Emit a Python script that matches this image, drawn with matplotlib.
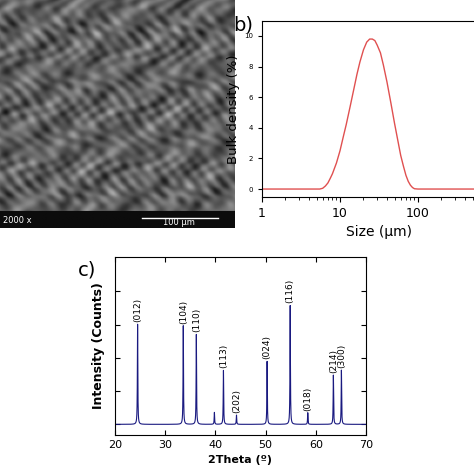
import numpy as np
import matplotlib.pyplot as plt
from matplotlib.ticker import FixedLocator, NullFormatter

# panel b: particle size distribution
size_um = [1, 5.5, 6, 6.5, 7, 7.5, 8, 9, 10, 11, 12, 13.5, 15, 16.5, 18, 20, 22, 24, 25, 26, 28, 30,
           33, 36, 40, 45, 50, 55, 60, 65, 70, 75, 80, 85, 90, 100, 1000]
bulk_pct = [0, 0, 0.05, 0.2, 0.4, 0.7, 1.0, 1.7, 2.5, 3.4, 4.2, 5.4, 6.5, 7.5, 8.3, 9.1, 9.6, 9.8, 9.8,
            9.8, 9.7, 9.4, 8.9, 8.1, 7.0, 5.6, 4.3, 3.2, 2.2, 1.5, 0.9, 0.5, 0.25, 0.1, 0.02, 0, 0]

# panel c: XRD peaks (2theta, relative height)
peak_pos = [24.5, 33.6, 36.2, 39.8, 41.6, 44.2, 50.3, 54.9, 58.4, 63.5, 65.1]
peak_hkl = ["(012)", "(104)", "(110)", "", "(113)", "(202)", "(024)", "(116)", "(018)", "(214)", "(300)"]
peak_h = [301, 297, 271, 36, 163, 28, 190, 358, 35, 148, 163]

fig = plt.figure(figsize=(4.74, 4.74), dpi=100)

# panel a: SEM micrograph placeholder
axa = fig.add_axes([0, 1 - 228/474, 235/474, 228/474])
yy, xx = np.mgrid[0:200, 0:200]
tex = (0.38 + 0.12*np.sin(xx*0.31 + np.sin(yy*0.13)*3)*np.cos(yy*0.27 + np.cos(xx*0.07)*2)
       + 0.1*np.sin(xx*0.11 + yy*0.17)**3 + 0.08*np.cos(xx*0.53 - yy*0.41)*np.sin(yy*0.05))
tex[185:, :] = 0.05
axa.imshow(tex, cmap="gray", vmin=0, vmax=1, aspect="auto")
axa.text(2, 193, "2000 x", color="white", fontsize=6, va="center")
axa.plot([120, 185], [191, 191], color="white", lw=1)
axa.text(152, 195, "100 µm", color="white", fontsize=6, ha="center", va="center")
axa.axis("off")

# panel b
axb = fig.add_axes([262/474, 1 - 197/474, 234/474, 176/474])
axb.plot(size_um, bulk_pct, color="#e05050", lw=1)
axb.set_xscale("log")
axb.set_xlim(1, 1000)
axb.xaxis.set_major_locator(FixedLocator([1, 10, 100]))
axb.set_xticklabels(["1", "10", "100"])
axb.xaxis.set_minor_formatter(NullFormatter())
axb.set_ylim(-0.52, 10.98)
axb.set_yticks([0, 2, 4, 6, 8, 10])
axb.tick_params(axis="y", labelsize=5, direction="out", length=3)
axb.tick_params(axis="x", labelsize=9)
axb.set_xlabel("Size (µm)", fontsize=10)
axb.set_ylabel("Bulk density (%)", fontsize=9.5, labelpad=3)
fig.text(233/474, 1 - 25/474, "b)", fontsize=14, ha="left", va="center")

# panel c
theta = np.linspace(20, 70, 6000)
inten = np.zeros_like(theta)
for p, h in zip(peak_pos, peak_h):
    inten += h / (1 + ((theta - p) / 0.05)**2)
axc = fig.add_axes([115/474, 1 - 435/474, 251/474, 178/474])
axc.plot(theta, inten, color="#1a1a80", lw=0.8)
for p, h, lab in zip(peak_pos, peak_h, peak_hkl):
    if lab:
        axc.text(p, h + 6, lab, rotation=90, ha="center", va="bottom", fontsize=6.5)
axc.set_xlim(20, 70)
axc.set_ylim(-32, 503)
axc.set_yticks([0, 100, 200, 300, 400])
axc.set_yticklabels([])
axc.tick_params(axis="both", direction="in", top=True, right=True, labelsize=8)
axc.set_xlabel("2Theta (º)", fontsize=8, fontweight="bold")
axc.set_ylabel("Intensity (Counts)", fontsize=9, fontweight="bold")
fig.text(78/474, 1 - 270/474, "c)", fontsize=14, ha="left", va="center")

fig.savefig("out.png", dpi=100)
